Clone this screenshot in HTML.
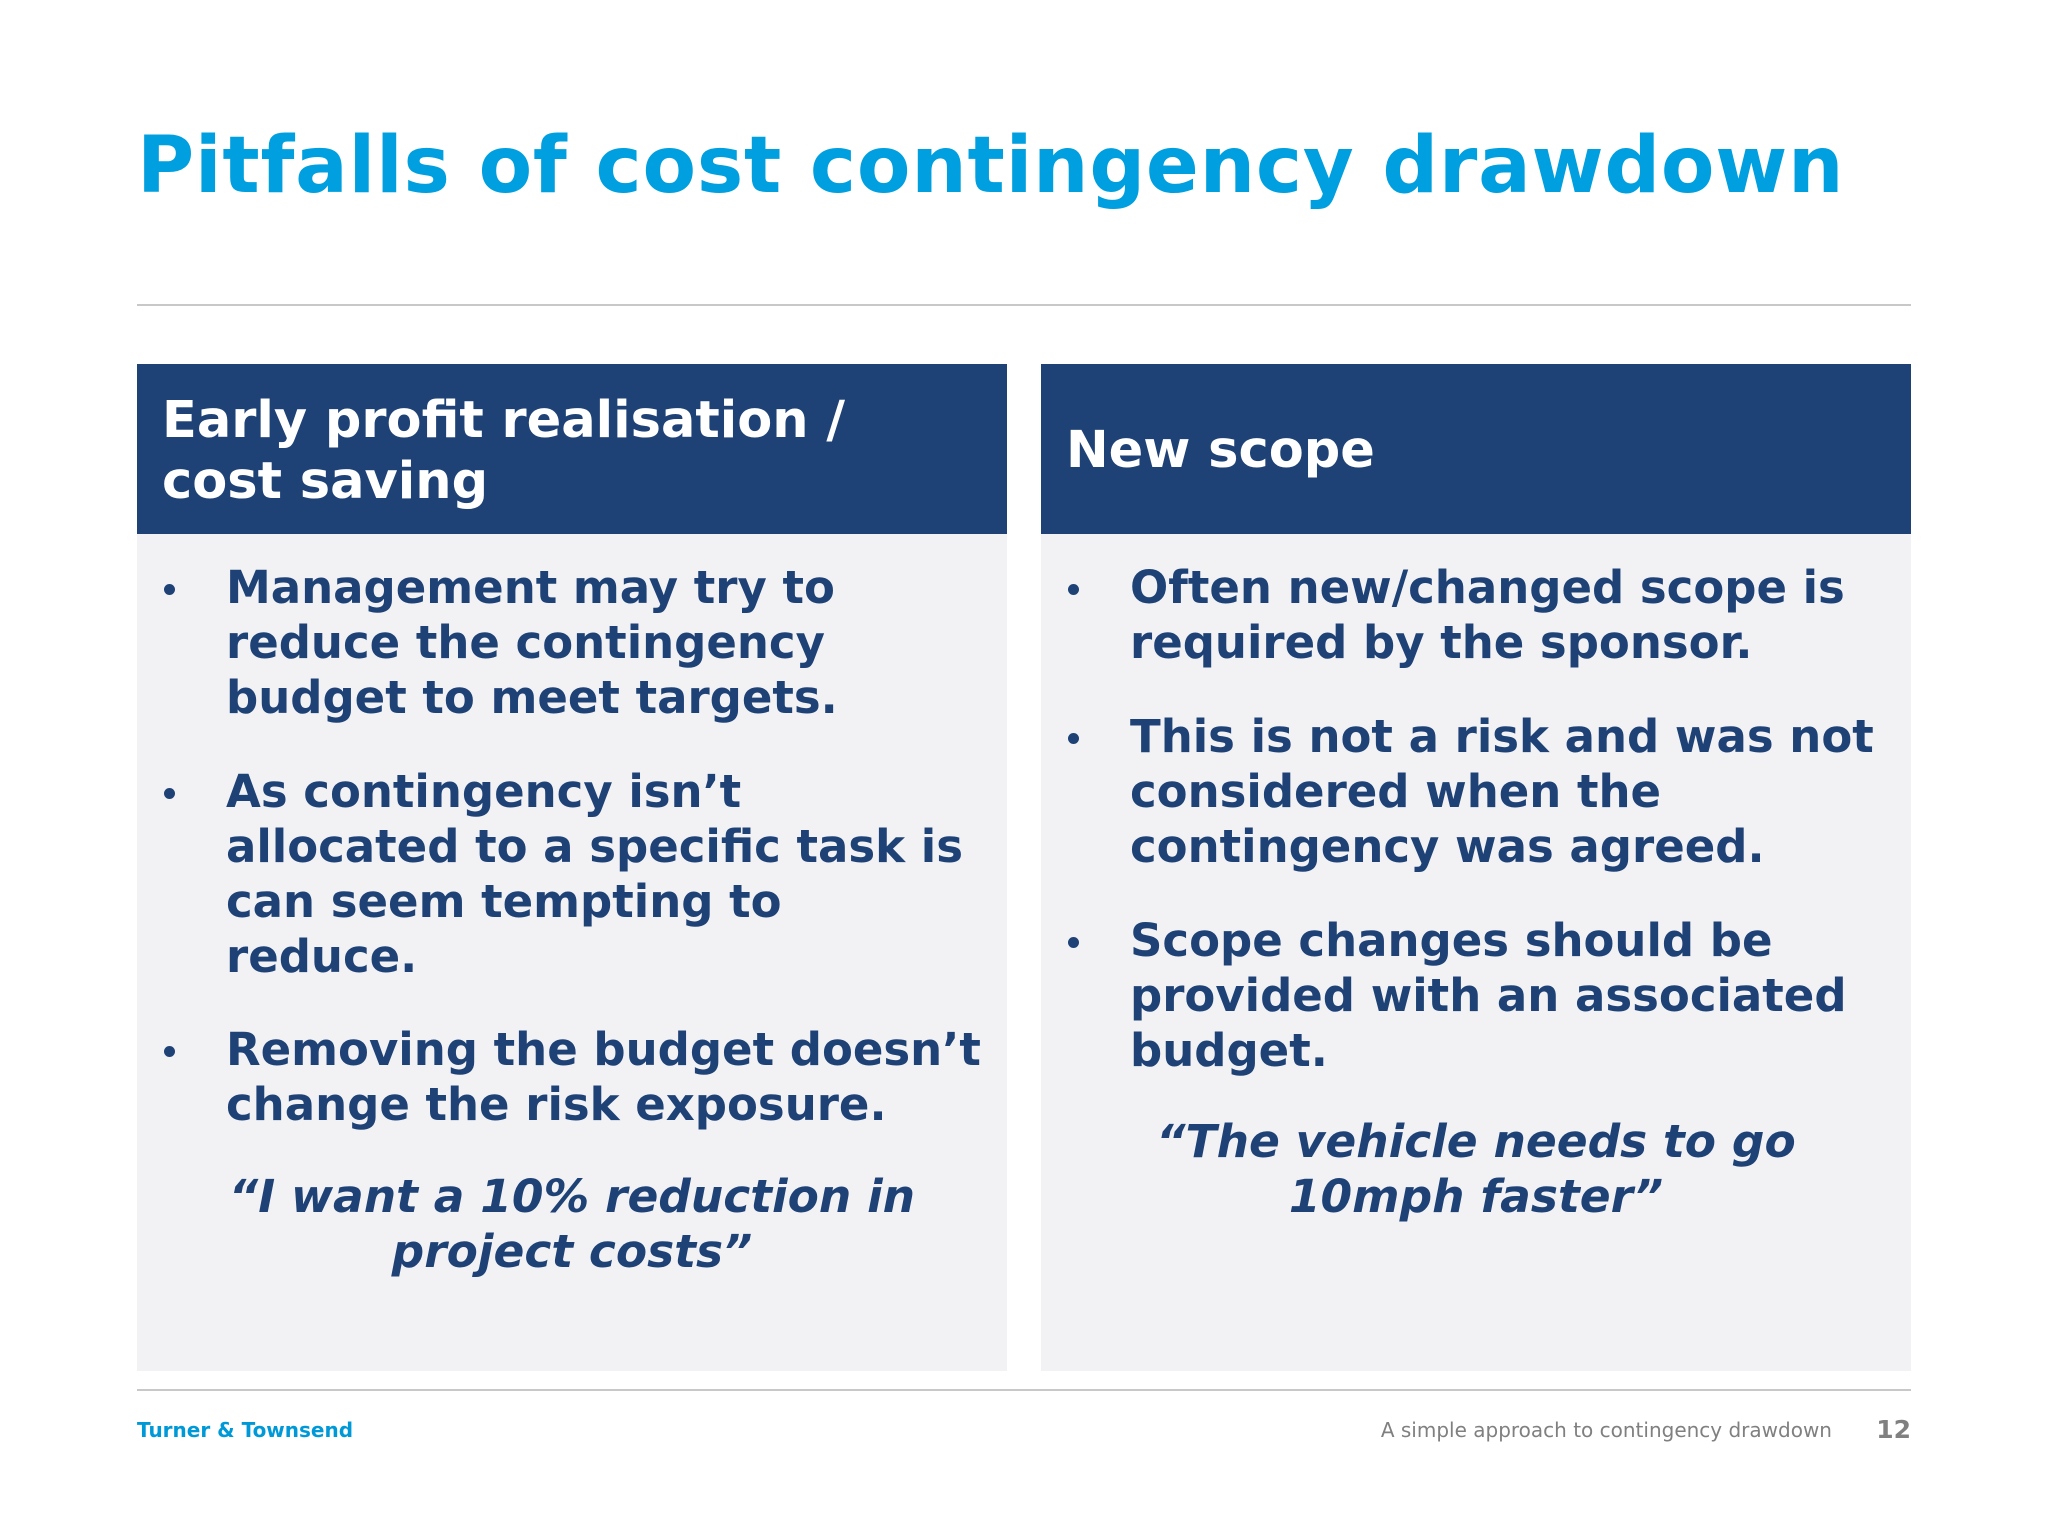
<!DOCTYPE html>
<html><head><meta charset="utf-8"><style>
*{margin:0;padding:0;box-sizing:border-box}
body{width:2048px;height:1536px;background:#fff;position:relative;overflow:hidden;font-family:"DejaVu Sans","Liberation Sans",sans-serif}
.abs{position:absolute;white-space:nowrap}
#title{left:137px;top:121px;font-size:78px;font-weight:bold;color:#009fdf;letter-spacing:0.75px}
.rule{position:absolute;left:137px;width:1774px;height:2px;background:#c8c8c8}
.panel{position:absolute;top:364px;width:870px;height:1007px;background:#f2f2f4}
.head{position:absolute;left:0;top:0;width:100%;height:170px;background:#1f4276;color:#fff;font-weight:bold;font-size:51px}
.head span{position:absolute;left:25px;white-space:nowrap}
.line{position:absolute;white-space:nowrap;color:#1f4276;font-weight:bold;font-size:45px;left:89px}
.dot{position:absolute;left:27px;width:11px;height:11px;border-radius:50%;background:#1f4276}
.q{position:absolute;width:100%;text-align:center;color:#1f4276;font-weight:bold;font-style:italic;font-size:45.5px;white-space:nowrap}
</style></head><body>
<div id="title" class="abs">Pitfalls of cost contingency drawdown</div>
<div class="rule" style="top:304px"></div>

<div class="panel" style="left:137px">
 <div class="head">
  <span style="top:27px">Early profit realisation /</span>
  <span style="top:88px">cost saving</span>
 </div>
 <div class="dot" style="top:220px"></div>
 <div class="line" style="top:197px">Management may try to</div>
 <div class="line" style="top:252px">reduce the contingency</div>
 <div class="line" style="top:307px">budget to meet targets.</div>
 <div class="dot" style="top:424px"></div>
 <div class="line" style="top:401px">As contingency isn’t</div>
 <div class="line" style="top:456px">allocated to a specific task is</div>
 <div class="line" style="top:511px">can seem tempting to</div>
 <div class="line" style="top:566px">reduce.</div>
 <div class="dot" style="top:682px"></div>
 <div class="line" style="top:659px">Removing the budget doesn’t</div>
 <div class="line" style="top:714px">change the risk exposure.</div>
 <div class="q" style="top:806px">“I want a 10% reduction in</div>
 <div class="q" style="top:861px">project costs”</div>
</div>

<div class="panel" style="left:1041px">
 <div class="head">
  <span style="top:57px">New scope</span>
 </div>
 <div class="dot" style="top:220px"></div>
 <div class="line" style="top:197px">Often new/changed scope is</div>
 <div class="line" style="top:252px">required by the sponsor.</div>
 <div class="dot" style="top:369px"></div>
 <div class="line" style="top:346px">This is not a risk and was not</div>
 <div class="line" style="top:401px">considered when the</div>
 <div class="line" style="top:456px">contingency was agreed.</div>
 <div class="dot" style="top:573px"></div>
 <div class="line" style="top:550px">Scope changes should be</div>
 <div class="line" style="top:605px">provided with an associated</div>
 <div class="line" style="top:660px">budget.</div>
 <div class="q" style="top:751px">“The vehicle needs to go</div>
 <div class="q" style="top:806px">10mph faster”</div>
</div>

<div class="rule" style="top:1389px"></div>
<div class="abs" style="left:137px;top:1418px;font-size:20px;font-weight:bold;color:#0099d8">Turner &amp; Townsend</div>
<div class="abs" style="right:216px;top:1418px;font-size:20px;color:#808080">A simple approach to contingency drawdown</div>
<div class="abs" style="right:137px;top:1415px;font-size:25px;font-weight:bold;color:#808080">12</div>
</body></html>
